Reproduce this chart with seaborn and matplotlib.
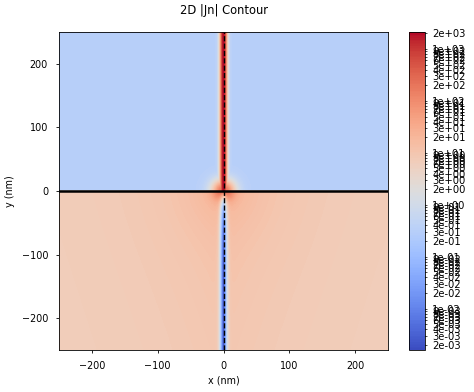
import numpy as np
import matplotlib
matplotlib.use("Agg")
import matplotlib.pyplot as plt
from matplotlib.colors import LogNorm
import seaborn as sns

# valores (log10 de |Jn|)
x_range = [-250, 250]          # nm
y_range = [-250, 250]          # nm
upper_bg = -0.50               # fondo azul claro (y > 0)
lower_bg_center = 1.15         # fondo salmon cerca de x=0 (y < 0)
lower_bg_edge = 0.80           # fondo salmon en los bordes
upper_line_peak = 3.30         # canal rojo en x=0, y > 0
lower_line_dip = -2.70         # canal azul en x=0, y < 0
origin_peak = 2.40             # mancha roja en el origen
line_width_up = 3.8            # nm (sigma)
line_width_low = 4.0           # nm (sigma)
vmin, vmax = 1.6e-3, 2.15e3
tick_decades = [-3, -2, -1, 0, 1, 2, 3]
tick_mults = [1, 2, 3, 4, 5, 6, 7, 8, 9]

# malla y campo
x = np.linspace(x_range[0], x_range[1], 501)
y = np.linspace(y_range[0], y_range[1], 501)
X, Y = np.meshgrid(x, y)
R = np.sqrt(X**2 + Y**2)

up = upper_bg + (upper_line_peak - upper_bg) * np.exp(-X**2 / (2 * line_width_up**2))
up = np.maximum(up, upper_bg + (origin_peak - upper_bg) * np.exp(-(R / 18.0)**2))

low_bg = lower_bg_edge + (lower_bg_center - lower_bg_edge) * np.exp(-(np.abs(X) + 0.3 * np.abs(Y)) / 120.0)
low_bg = low_bg + 0.35 * np.exp(-R / 40.0) + 1.2 * np.exp(-(R / 15.0)**2)
depth = (1 - np.exp(-np.abs(Y) / 30.0))
low = low_bg + (lower_line_dip - low_bg) * depth * np.exp(-X**2 / (2 * line_width_low**2))

logJ = np.where(Y >= 0, up, low)
J = 10**logJ
J = np.clip(J, vmin * 1.001, vmax * 0.999)

ticks = [m * 10.0**d for d in tick_decades for m in tick_mults]
ticks = [t for t in ticks if vmin <= t <= vmax]

sns.set_theme(style="ticks", rc={"text.color": "black", "axes.labelcolor": "black",
                                 "xtick.color": "black", "ytick.color": "black",
                                 "axes.edgecolor": "black"})
plt.rcParams["font.family"] = ["DejaVu Sans"]

fig = plt.figure(figsize=(4.74, 3.92), dpi=100)
ax = fig.add_axes([59 / 474, 1 - 350 / 392, 329 / 474, 318.3 / 392])
cax = fig.add_axes([409 / 474, 1 - 350 / 392, 16 / 474, 318.3 / 392])

levels = np.logspace(np.log10(vmin), np.log10(vmax), 200)
cf = ax.contourf(X, Y, J, levels=levels, norm=LogNorm(vmin=vmin, vmax=vmax), cmap="coolwarm")
ax.axhline(0, color="black", lw=1.8)
ax.axvline(0, color="black", ls="--", lw=1.0)

ax.set_xlim(x_range)
ax.set_ylim(y_range)
ax.set_xticks([-200, -100, 0, 100, 200])
ax.set_yticks([-200, -100, 0, 100, 200])
ax.tick_params(labelsize=6.9, length=2.4, width=0.6, pad=5.5)
for s in ax.spines.values():
    s.set_linewidth(0.6)
ax.set_xlabel("x (nm)", fontsize=6.9, labelpad=3.5)
ax.set_ylabel("y (nm)", fontsize=6.9, labelpad=4.5)
ax.set_title("2D |Jn| Contour", fontsize=8.3, pad=12.5)

cb = fig.colorbar(cf, cax=cax)
cb.set_ticks(ticks)
cb.set_ticklabels(["%.0e" % t for t in ticks])
cb.ax.minorticks_off()
cb.ax.tick_params(labelsize=7.2, direction="inout", length=3.5, width=0.5, pad=3.5)
cb.outline.set_linewidth(0.6)

plt.savefig("out.png", dpi=100)
plt.close()
